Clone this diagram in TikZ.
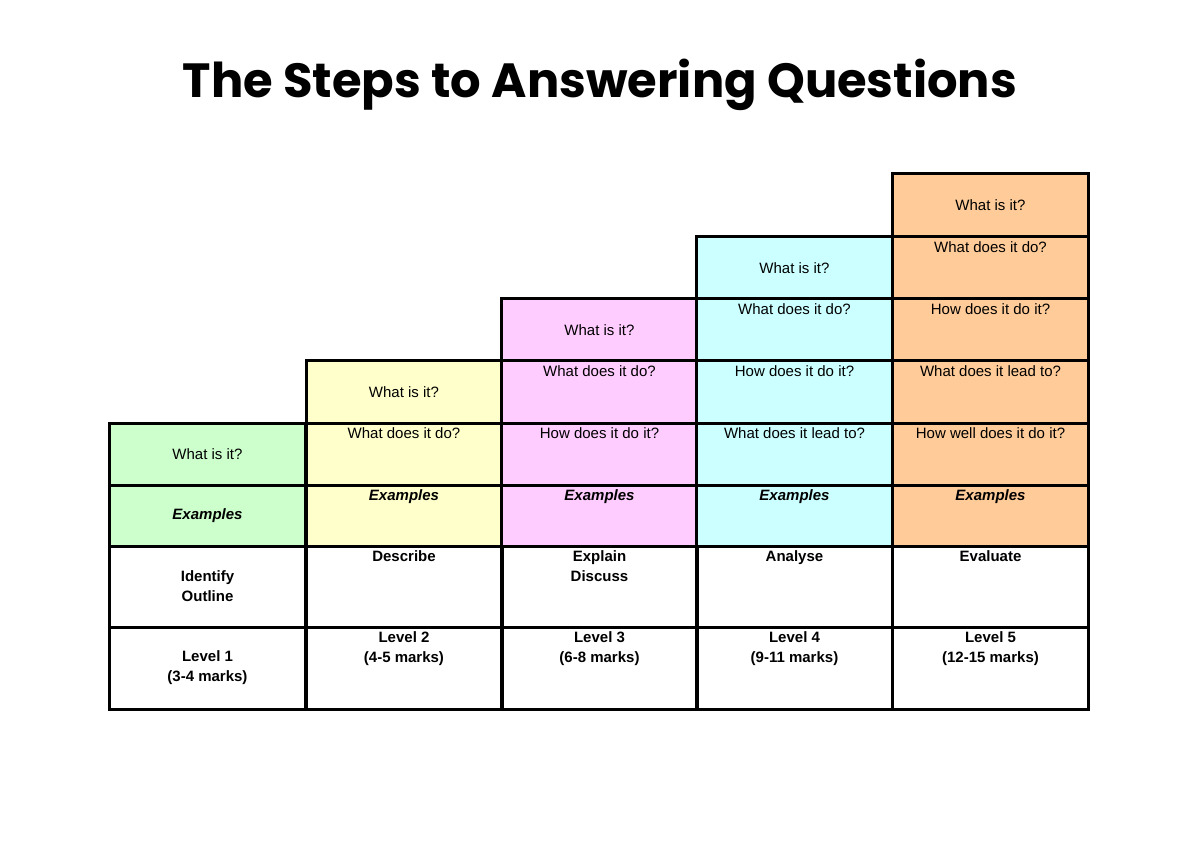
\documentclass[tikz,border=0pt]{standalone}
\usepackage{fontspec}
\setmainfont{Liberation Sans}
\newfontfamily\titlefont{Poppins}
\usepackage{tikz}
\usetikzlibrary{positioning}
\definecolor{mygreen}{RGB}{204,255,204}
\definecolor{myyellow}{RGB}{255,255,204}
\definecolor{mypink}{RGB}{255,204,255}
\definecolor{mycyan}{RGB}{204,255,255}
\definecolor{myorange}{RGB}{255,204,153}
\tikzstyle{cell}=[draw,line width=1.5pt,minimum width=98pt,inner sep=0pt,outer sep=0pt]
\tikzstyle{txt}=[font=\fontsize{7.5}{9}\selectfont,align=center,inner sep=0pt]
\tikzstyle{btxt}=[txt,font=\fontsize{7.5}{10}\selectfont\bfseries]
\tikzstyle{itxt}=[btxt,font=\fontsize{7.5}{9}\selectfont\bfseries\itshape]
\begin{document}
\begin{tikzpicture}[x=0.5pt,y=-0.5pt]
\useasboundingbox (0,0) rectangle (1200,850);
\node[font=\titlefont\fontsize{24}{28}\selectfont\bfseries] (title) at (600,85) {The Steps to Answering Questions};
% column 1
\draw (207.5,454) node [cell, fill=mygreen, minimum height=31pt] (a1) {};
\draw (207.5,515.5) node [cell, fill=mygreen, minimum height=30.5pt] (a2) {};
\draw (207.5,586.5) node [cell, minimum height=40.5pt] (a3) {};
\draw (207.5,668) node [cell, minimum height=41pt] (a4) {};
\node[txt] at (a1) {What is it?};
\node[itxt] at (a2) {Examples};
\node[btxt] at (a3) {Identify\\Outline};
\node[btxt] at (a4) {Level 1\\(3-4 marks)};
% columns 2-5
\foreach \c/\x/\col/\top/\verb/\lev in {2/404/myyellow/361/Describe/{Level 2\\(4-5 marks)},
  3/599.5/mypink/299/{Explain\\Discuss}/{Level 3\\(6-8 marks)},
  4/794.5/mycyan/237/Analyse/{Level 4\\(9-11 marks)},
  5/990.5/myorange/174/Evaluate/{Level 5\\(12-15 marks)}}{
  \fill[\col] (\x-98,\top) rectangle (\x+98,546);
  \foreach \y in {\top,237,299,361,423,485}{
    \ifnum\y<\top\else \draw[line width=1.5pt] (\x-98,\y) -- (\x+98,\y);\fi}
  \draw[line width=1.5pt] (\x-98,\top) rectangle (\x+98,709);
  \draw[line width=1.5pt] (\x-98,546) -- (\x+98,546) (\x-98,627) -- (\x+98,627);
  \node[txt] (q\c) at (\x,\top+31) {What is it?};
  \node[itxt,anchor=north] (e\c) at (\x,489) {Examples};
  \node[btxt,anchor=north] (v\c) at (\x,550) {\verb};
  \node[btxt,anchor=north] (l\c) at (\x,631) {\lev};
}
% questions
\foreach \x/\n in {404/1,599.5/2,794.5/3,990.5/4}{
  \node[txt,anchor=north] at (\x,427) {\ifcase\n\or What does it do?\or How does it do it?\or What does it lead to?\or How well does it do it?\fi};}
\foreach \x/\n in {599.5/1,794.5/2,990.5/3}{
  \node[txt,anchor=north] at (\x,365) {\ifcase\n\or What does it do?\or How does it do it?\or What does it lead to?\fi};}
\foreach \x/\n in {794.5/1,990.5/2}{
  \node[txt,anchor=north] at (\x,303) {\ifcase\n\or What does it do?\or How does it do it?\fi};}
\node[txt,anchor=north] at (990.5,241) {What does it do?};
\end{tikzpicture}
\end{document}
